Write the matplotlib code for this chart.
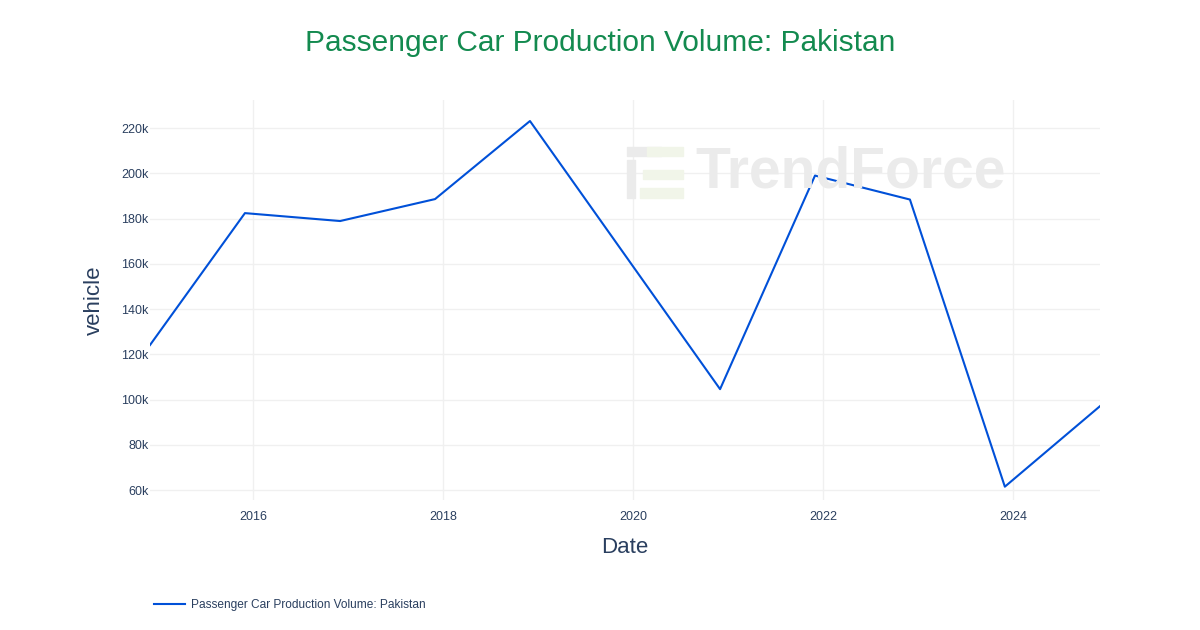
import numpy as np
import matplotlib.pyplot as plt
import matplotlib.dates as mdates
import matplotlib.patches as mpatches
import pandas as pd

plt.rcParams['font.family'] = ['Liberation Sans', 'DejaVu Sans']

dates = pd.to_datetime(['2014-12-01', '2015-12-01', '2016-12-01', '2017-12-01', '2018-12-01',
                        '2020-12-01', '2021-12-01', '2022-12-01', '2023-12-01', '2024-12-01'])
values = [124100, 182400, 178900, 188600, 223100, 104600, 199000, 188400, 61500, 97100]
series_name = 'Passenger Car Production Volume: Pakistan'

fig = plt.figure(figsize=(12, 6.3), dpi=100)
ax = fig.add_axes([0.125, 0.2063, 0.7917, 0.635])

# watermark: simple logo blocks + text
W, H = 1200, 630
def box(x, y, w, h, c):
    fig.patches.append(mpatches.Rectangle((x / W, 1 - (y + h) / H), w / W, h / H,
                                          transform=fig.transFigure, color=c, zorder=0))
box(627, 147, 34, 9, '#ebebeb')
box(627, 160, 8, 38, '#ebebeb')
box(647, 147, 36, 9, '#f1f5e9')
box(643, 170, 40, 9, '#f1f5e9')
box(640, 188, 43, 10, '#f1f5e9')
fig.text(695 / W, 1 - 173 / H, 'TrendForce', fontsize=41, fontweight='bold',
         color='#ebebeb', ha='left', va='center', zorder=0)

ax.patch.set_alpha(0)
ax.plot(dates, values, color='#0050d8', linewidth=1.5, label=series_name, zorder=3)

ax.set_xlim(pd.Timestamp('2014-12-01'), pd.Timestamp('2024-12-01'))
ax.set_ylim(55600, 232400)
ax.set_yticks(np.arange(60000, 220001, 20000))
ax.yaxis.set_major_formatter(plt.FuncFormatter(lambda v, p: f'{int(v / 1000)}k'))
ax.xaxis.set_major_locator(mdates.YearLocator(2))
ax.xaxis.set_major_formatter(mdates.DateFormatter('%Y'))

ax.grid(True, color='#f0f0f0', linewidth=1)
for s in ax.spines.values():
    s.set_visible(False)
ax.tick_params(length=0, labelsize=9, colors='#2a3f5f')
ax.tick_params(axis='y', pad=1)
ax.tick_params(axis='x', pad=8)

ax.set_xlabel('Date', fontsize=16, color='#2a3f5f', labelpad=10)
ax.set_ylabel('vehicle', fontsize=16, color='#2a3f5f', labelpad=12)

fig.suptitle('Passenger Car Production Volume: Pakistan', y=0.954, fontsize=21.5, color='#138a4f')

ax.legend(loc='upper left', bbox_to_anchor=(-0.007, -0.22), frameon=False, fontsize=8.6,
          labelcolor='#2a3f5f', handlelength=2.6, handletextpad=0.5)

fig.savefig('out.png', dpi=100)
